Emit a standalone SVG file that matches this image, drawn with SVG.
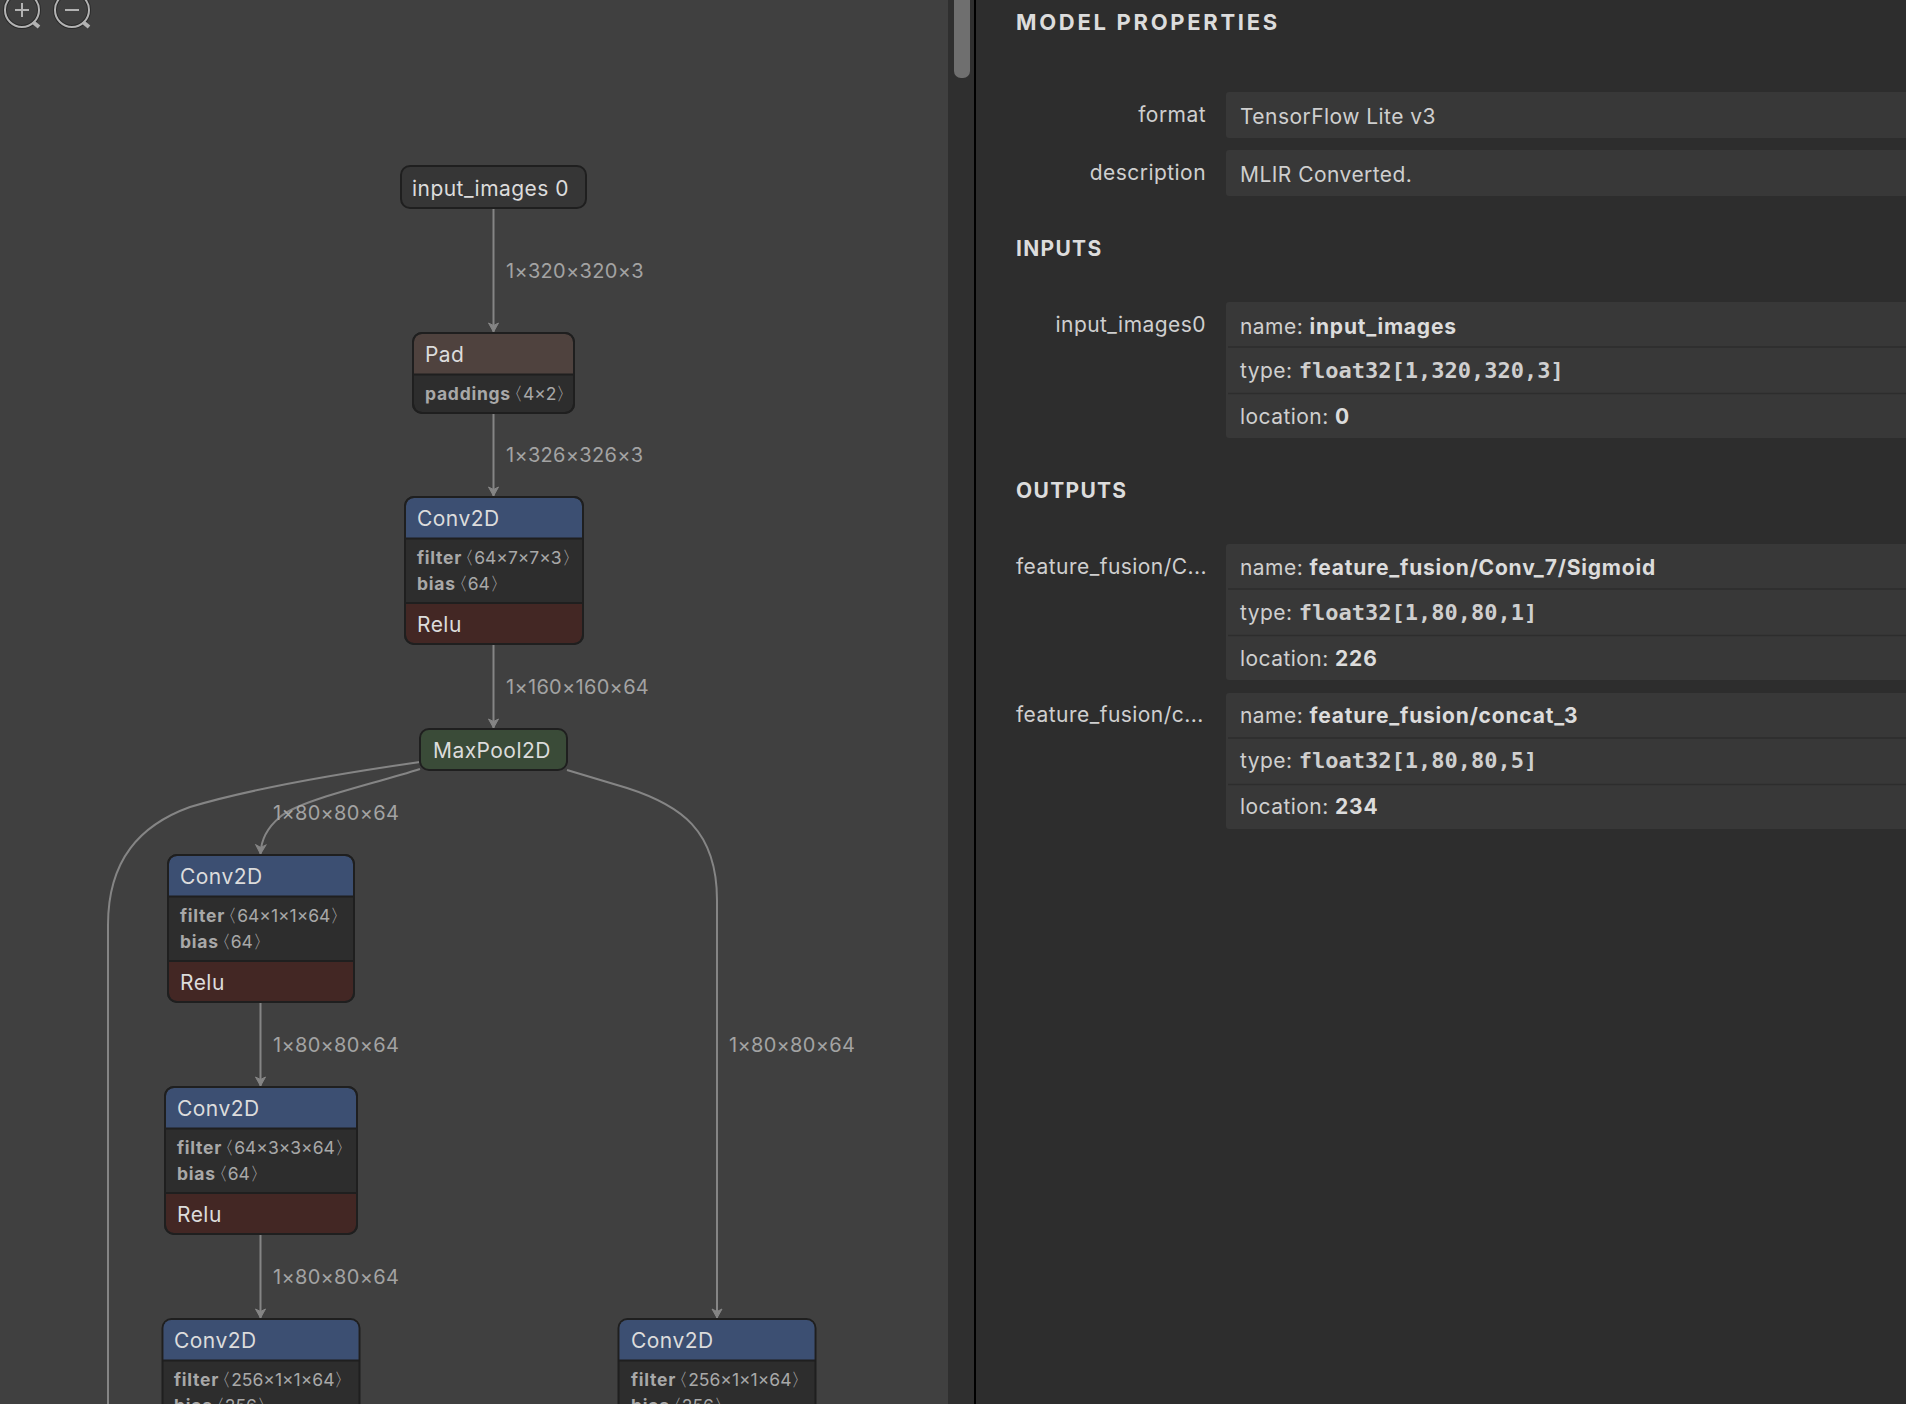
<svg xmlns="http://www.w3.org/2000/svg" width="1906" height="1404" viewBox="0 0 1906 1404">
<style>
text{font-family:"Inter","Liberation Sans",sans-serif}
.t{font-size:21px;fill:#dcdcdc;letter-spacing:.45px}
.a{font-size:17.5px;fill:#a8a8a8}
.a .k{font-weight:700;letter-spacing:.75px}
.e{font-size:20px;fill:#a3a3a3;letter-spacing:.3px}
.h{font-size:21px;font-weight:700;fill:#dcdcdc;letter-spacing:1.3px}
.h1{font-size:22px;letter-spacing:2.7px}
.l{font-size:21px;fill:#cfcfcf;letter-spacing:.45px}
.v{font-size:21px;fill:#cfcfcf;letter-spacing:.45px}
.v .m{font-family:"DejaVu Sans Mono",monospace;font-weight:700;font-size:22px;letter-spacing:0}
.v .s{font-weight:700;fill:#dcdcdc;letter-spacing:.8px}
.c{fill:none;stroke:#858585;stroke-width:2}
.n{stroke:#1f1f1f;stroke-width:2;fill:#2d2d2d}
.o{fill:none;stroke:#1f1f1f;stroke-width:2}
.d{stroke:#1f1f1f;stroke-width:2}
.box{fill:#383838}
.sep{stroke:#2d2d2d;stroke-width:1.5}
.blue{fill:#3c4f72}.red{fill:#432724}.green{fill:#3a4b38}.brown{fill:#4f423e}
.ic{fill:none;stroke:#b3b3b3;stroke-width:2}
.hl{fill:none;stroke:#2a2a2a;stroke-width:4}
</style>
<defs>
<marker id="arr" markerUnits="userSpaceOnUse" markerWidth="12" markerHeight="14" refX="10" refY="6" orient="auto"><path d="M1,1L10,6L1,11L3.500,6Z" fill="#858585" stroke="#858585" stroke-width="1"/></marker>
</defs>
<rect id="graph-bg" width="948" height="1404" fill="#404040"/>
<rect id="scroll-track" x="948" width="27" height="1404" fill="#2f2f2f"/>
<rect id="scroll-thumb" x="954" y="-10" width="16" height="88" rx="7" fill="#6f6f6f"/>
<rect id="panel" x="976" width="930" height="1404" fill="#2d2d2d"/>
<rect id="panel-edge" x="974" width="2" height="1404" fill="#000"/>
<g id="zoom-in"><circle class="hl" cx="22" cy="10" r="17"/><circle class="ic" cx="22" cy="10" r="17"/><path class="ic" d="M15,10H29M22,3V17"/><path d="M33,22L39,27" stroke="#b3b3b3" stroke-width="4"/></g>
<g id="zoom-out"><circle class="hl" cx="72" cy="10" r="17"/><circle class="ic" cx="72" cy="10" r="17"/><path class="ic" d="M65,10H79"/><path d="M83,22L89,27" stroke="#b3b3b3" stroke-width="4"/></g>
<g id="connectors">
<path class="c" marker-end="url(#arr)" d="M493.500,209V332"/>
<path class="c" marker-end="url(#arr)" d="M493.500,413V496"/>
<path class="c" marker-end="url(#arr)" d="M493.500,644V728"/>
<path class="c" d="M420,762C350,772 260,786 190,807C140,825 108,860 108,925V1404"/>
<path class="c" marker-end="url(#arr)" d="M420,769C370,785 300,800 280,817C268,827 261,838 260.500,854"/>
<path class="c" marker-end="url(#arr)" d="M567,770L627,788C680,805 717,830 717,900V1318"/>
<path class="c" marker-end="url(#arr)" d="M260.500,1003V1086"/>
<path class="c" marker-end="url(#arr)" d="M260.500,1235V1318"/>
</g>
<g id="edge-labels">
<text class="e" x="506" y="278">1×320×320×3</text>
<text class="e" x="506" y="462">1×326×326×3</text>
<text class="e" x="506" y="694">1×160×160×64</text>
<text class="e" x="273" y="820">1×80×80×64</text>
<text class="e" x="273" y="1052">1×80×80×64</text>
<text class="e" x="729" y="1052">1×80×80×64</text>
<text class="e" x="273" y="1284">1×80×80×64</text>
</g>
<g id="node-input">
<rect class="n" x="401" y="166" width="185" height="42" rx="9" style="fill:#363636"/>
<text class="t" x="412" y="196">input_images 0</text>
</g>
<g id="node-pad">
<rect class="n" x="413" y="333" width="161" height="80" rx="9"/>
<path class="brown" d="M414,374V342a8,8 0 0 1 8,-8H565a8,8 0 0 1 8,8V374Z"/>
<path class="d" d="M413,374.500H574"/>
<text class="t" x="425" y="362">Pad</text>
<text class="a" x="425" y="400"><tspan class="k">paddings</tspan><tspan dx="-6">〈</tspan>4×2<tspan>〉</tspan></text>
<rect class="o" x="413" y="333" width="161" height="80" rx="9"/>
</g>
<g id="node-conv1">
<rect class="n" x="405" y="497" width="178" height="147" rx="9"/>
<path class="blue" d="M406,538V506a8,8 0 0 1 8,-8H574a8,8 0 0 1 8,8V538Z"/>
<path class="red" d="M406,603V635a8,8 0 0 0 8,8H574a8,8 0 0 0 8,-8V603Z"/>
<path class="d" d="M405,538.500H583M405,603H583"/>
<text class="t" x="417" y="526">Conv2D</text>
<text class="a" x="417" y="564"><tspan class="k">filter</tspan><tspan dx="-6">〈</tspan>64×7×7×3<tspan>〉</tspan></text>
<text class="a" x="417" y="590"><tspan class="k">bias</tspan><tspan dx="-6">〈</tspan>64<tspan>〉</tspan></text>
<text class="t" x="417" y="632">Relu</text>
<rect class="o" x="405" y="497" width="178" height="147" rx="9"/>
</g>
<g id="node-maxpool">
<rect class="n" x="420" y="729" width="147" height="41" rx="9" style="fill:#3a4b38"/>
<text class="t" x="433" y="758">MaxPool2D</text>
</g>
<g id="node-conv2">
<rect class="n" x="168" y="855" width="186" height="147" rx="9"/>
<path class="blue" d="M169,896V864a8,8 0 0 1 8,-8H345a8,8 0 0 1 8,8V896Z"/>
<path class="red" d="M169,961V993a8,8 0 0 0 8,8H345a8,8 0 0 0 8,-8V961Z"/>
<path class="d" d="M168,896.500H354M168,961H354"/>
<text class="t" x="180" y="884">Conv2D</text>
<text class="a" x="180" y="922"><tspan class="k">filter</tspan><tspan dx="-6">〈</tspan>64×1×1×64<tspan>〉</tspan></text>
<text class="a" x="180" y="948"><tspan class="k">bias</tspan><tspan dx="-6">〈</tspan>64<tspan>〉</tspan></text>
<text class="t" x="180" y="990">Relu</text>
<rect class="o" x="168" y="855" width="186" height="147" rx="9"/>
</g>
<g id="node-conv3">
<rect class="n" x="165" y="1087" width="192" height="147" rx="9"/>
<path class="blue" d="M166,1128V1096a8,8 0 0 1 8,-8H348a8,8 0 0 1 8,8V1128Z"/>
<path class="red" d="M166,1193V1225a8,8 0 0 0 8,8H348a8,8 0 0 0 8,-8V1193Z"/>
<path class="d" d="M165,1128.500H357M165,1193H357"/>
<text class="t" x="177" y="1116">Conv2D</text>
<text class="a" x="177" y="1154"><tspan class="k">filter</tspan><tspan dx="-6">〈</tspan>64×3×3×64<tspan>〉</tspan></text>
<text class="a" x="177" y="1180"><tspan class="k">bias</tspan><tspan dx="-6">〈</tspan>64<tspan>〉</tspan></text>
<text class="t" x="177" y="1222">Relu</text>
<rect class="o" x="165" y="1087" width="192" height="147" rx="9"/>
</g>
<g id="node-conv4">
<rect class="n" x="162.500" y="1319" width="197" height="100" rx="9"/>
<path class="blue" d="M163.500,1360V1328a8,8 0 0 1 8,-8H350.500a8,8 0 0 1 8,8V1360Z"/>
<path class="d" d="M162.500,1360.500H359.500"/>
<text class="t" x="174" y="1348">Conv2D</text>
<text class="a" x="174" y="1386"><tspan class="k">filter</tspan><tspan dx="-6">〈</tspan>256×1×1×64<tspan>〉</tspan></text>
<text class="a" x="174" y="1412"><tspan class="k">bias</tspan><tspan dx="-6">〈</tspan>256<tspan>〉</tspan></text>
</g>
<g id="node-conv5">
<rect class="n" x="618.500" y="1319" width="197" height="100" rx="9"/>
<path class="blue" d="M619.500,1360V1328a8,8 0 0 1 8,-8H806.500a8,8 0 0 1 8,8V1360Z"/>
<path class="d" d="M618.500,1360.500H815.500"/>
<text class="t" x="631" y="1348">Conv2D</text>
<text class="a" x="631" y="1386"><tspan class="k">filter</tspan><tspan dx="-6">〈</tspan>256×1×1×64<tspan>〉</tspan></text>
<text class="a" x="631" y="1412"><tspan class="k">bias</tspan><tspan dx="-6">〈</tspan>256<tspan>〉</tspan></text>
</g>
<g id="properties">
<text class="h h1" x="1016" y="30">MODEL PROPERTIES</text>
<text class="l" x="1206" y="122" text-anchor="end">format</text>
<rect class="box" x="1226" y="92" width="690" height="46" rx="3"/>
<text class="v" x="1240" y="124">TensorFlow Lite v3</text>
<text class="l" x="1206" y="180" text-anchor="end">description</text>
<rect class="box" x="1226" y="150" width="690" height="46" rx="3"/>
<text class="v" x="1240" y="182">MLIR Converted.</text>
<text class="h" x="1016" y="256">INPUTS</text>
<text class="l" x="1206" y="332" text-anchor="end">input_images0</text>
<rect class="box" x="1226" y="302" width="690" height="136" rx="3"/>
<path class="sep" d="M1228,347H1906M1228,393.500H1906"/>
<text class="v" x="1240" y="334">name: <tspan class="s">input_images</tspan></text>
<text class="v" x="1240" y="378">type: <tspan class="m">float32[1,320,320,3]</tspan></text>
<text class="v" x="1240" y="424">location: <tspan class="s">0</tspan></text>
<text class="h" x="1016" y="498">OUTPUTS</text>
<text class="l" x="1016" y="574">feature_fusion/C...</text>
<rect class="box" x="1226" y="544" width="690" height="136" rx="3"/>
<path class="sep" d="M1228,589H1906M1228,635.500H1906"/>
<text class="v" x="1240" y="575">name: <tspan class="s">feature_fusion/Conv_7/Sigmoid</tspan></text>
<text class="v" x="1240" y="620">type: <tspan class="m">float32[1,80,80,1]</tspan></text>
<text class="v" x="1240" y="666">location: <tspan class="s">226</tspan></text>
<text class="l" x="1016" y="722">feature_fusion/c...</text>
<rect class="box" x="1226" y="693" width="690" height="136" rx="3"/>
<path class="sep" d="M1228,738H1906M1228,784.500H1906"/>
<text class="v" x="1240" y="723">name: <tspan class="s">feature_fusion/concat_3</tspan></text>
<text class="v" x="1240" y="768">type: <tspan class="m">float32[1,80,80,5]</tspan></text>
<text class="v" x="1240" y="814">location: <tspan class="s">234</tspan></text>
</g>
</svg>
